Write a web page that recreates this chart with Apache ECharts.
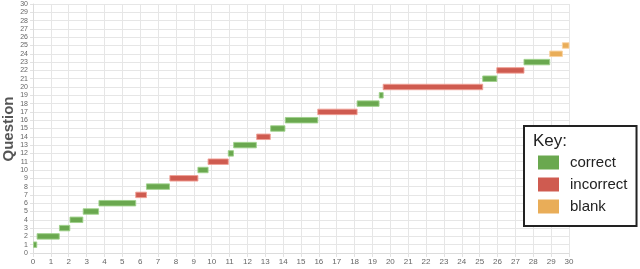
<!DOCTYPE html>
<html><head><meta charset="utf-8">
<script src="https://cdn.jsdelivr.net/npm/echarts@6/dist/echarts.min.js"></script>
<style>html,body{margin:0;padding:0;background:#fff}#c{width:640px;height:269px}</style>
</head><body><div id="c"></div>
<script>
// [start, end, question]
const correct = [
  [0.03, 0.21, 1], [0.23, 1.47, 2], [1.48, 2.06, 3], [2.07, 2.79, 4], [2.81, 3.67, 5],
  [3.69, 5.75, 6], [6.35, 7.64, 8], [9.23, 9.8, 10], [10.93, 11.22, 12], [11.23, 12.5, 13],
  [13.3, 14.1, 15], [14.12, 15.94, 16], [18.14, 19.37, 18], [19.38, 19.6, 19],
  [25.17, 25.96, 21], [27.48, 28.92, 23]
];
const incorrect = [
  [5.75, 6.35, 7], [7.66, 9.23, 9], [9.8, 10.93, 11], [12.52, 13.28, 14],
  [15.94, 18.14, 17], [19.6, 25.17, 20], [25.96, 27.48, 22]
];
const blank = [
  [28.92, 29.63, 24], [29.63, 30, 25]
];
const seriesNames = ['correct', 'incorrect', 'blank'];
const seriesColors = ['#6aa84f', '#cf5b50', '#e9ad58'];
const seriesBorders = ['rgba(160,210,140,0.9)', 'rgba(240,160,150,0.9)', 'rgba(250,210,160,0.9)'];
const yAxisTitle = 'Question';

function renderItem(params, api) {
  const s = api.coord([api.value(0), api.value(2)]);
  const e = api.coord([api.value(1), api.value(2)]);
  const h = api.size([0, 1])[1] * 0.66;
  return {
    type: 'rect',
    shape: { x: s[0], y: s[1] - h / 2, width: e[0] - s[0], height: h },
    style: { fill: seriesColors[params.seriesIndex], stroke: seriesBorders[params.seriesIndex], lineWidth: 1 }
  };
}

const chart = echarts.init(document.getElementById('c'));
chart.setOption({
  animation: false,
  grid: { left: 33, right: 71, top: 4, bottom: 16, containLabel: false, outerBoundsMode: 'none' },
  xAxis: {
    type: 'value', min: 0, max: 30, interval: 1,
    axisLine: { show: true, lineStyle: { color: '#dcdcdc' } },
    axisTick: { show: true, length: 4, lineStyle: { color: '#e2e2e2' } },
    axisLabel: { fontSize: 8, color: '#666', margin: 5, fontFamily: 'Helvetica, Arial, sans-serif' },
    splitLine: { show: true, lineStyle: { color: '#e6e6e6' } }
  },
  yAxis: {
    type: 'value', min: 0, max: 30, interval: 1,
    axisLine: { show: true, lineStyle: { color: '#dcdcdc' } },
    axisTick: { show: true, length: 3, lineStyle: { color: '#e2e2e2' } },
    axisLabel: { fontSize: 7, color: '#666', margin: 5, fontFamily: 'Helvetica, Arial, sans-serif' },
    splitLine: { show: true, lineStyle: { color: '#e6e6e6' } }
  },
  legend: {
    orient: 'vertical', left: 524, top: 126,
    padding: [29, 9, 12, 14],
    borderColor: '#222', borderWidth: 2, backgroundColor: '#fff',
    itemWidth: 21, itemHeight: 14, itemGap: 7,
    textStyle: { fontSize: 15, color: '#222', fontFamily: 'Helvetica, Arial, sans-serif', padding: [0, 0, 0, 6] },
    data: seriesNames.map((n, i) => ({ name: n, icon: 'rect', itemStyle: { color: seriesColors[i] } }))
  },
  graphic: [{
    type: 'text', left: 533, top: 133, z: 100,
    style: { text: 'Key:', fontSize: 17, fill: '#222', fontFamily: 'Helvetica, Arial, sans-serif' }
  }, {
    type: 'text', x: 9, y: 129, rotation: Math.PI / 2, z: 100,
    style: { text: yAxisTitle, fontSize: 15, fontWeight: 'bold', fill: '#555',
      fontFamily: 'Helvetica, Arial, sans-serif', align: 'center', verticalAlign: 'middle' }
  }],
  series: [correct, incorrect, blank].map((d, i) => ({
    type: 'custom', name: seriesNames[i], renderItem,
    itemStyle: { color: seriesColors[i] },
    encode: { x: [0, 1], y: 2 },
    data: d
  }))
});
</script></body></html>
